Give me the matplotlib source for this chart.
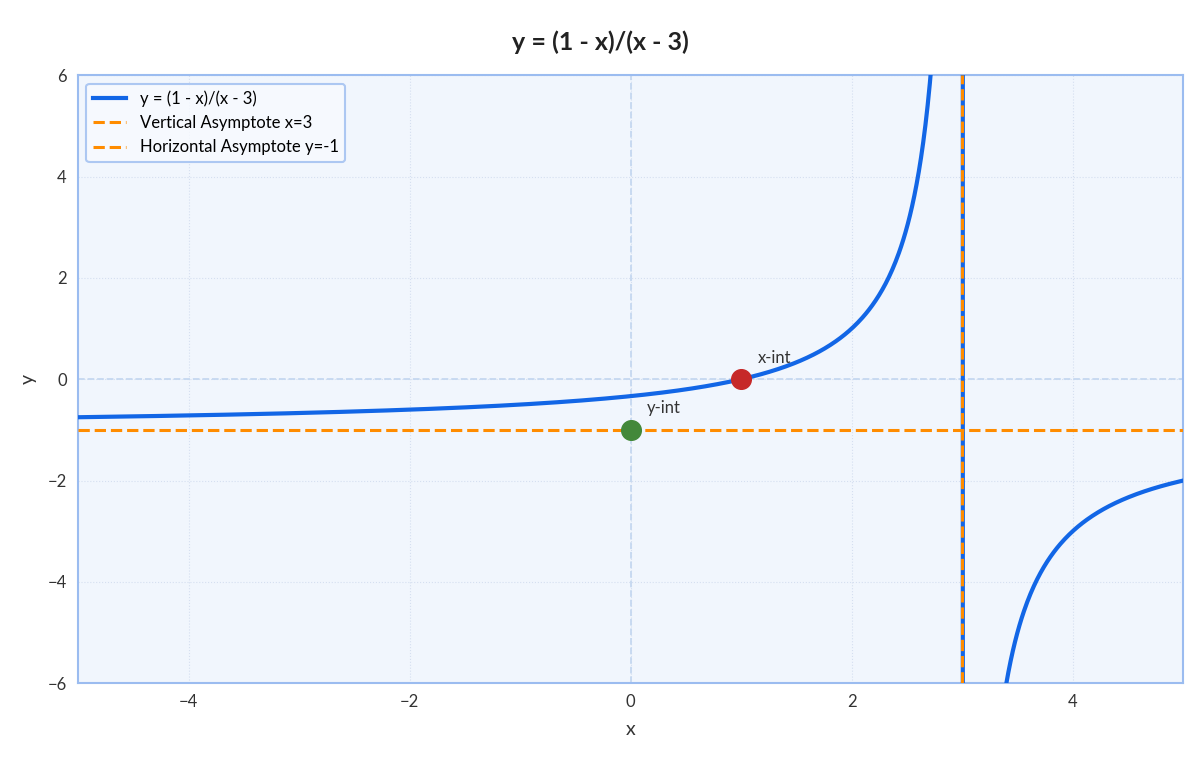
import numpy as np
import matplotlib.pyplot as plt

plt.rcParams['font.family'] = ['Lato', 'DejaVu Sans']

# chart content
title = "y = (1 - x)/(x - 3)"
x_range = [-5, 5]
y_range = [-6, 6]
v_asym = 3
h_asym = -1
x_int = (1, 0)
y_int = (0, -1)
xticks = [-4, -2, 0, 2, 4]
yticks = [-6, -4, -2, 0, 2, 4, 6]

x = np.linspace(x_range[0], x_range[1], 1000)
y = (1 - x) / (x - 3)

fig = plt.figure(figsize=(12, 7.6), dpi=100)
ax = fig.add_axes([0.065, 0.101, 0.921, 0.8])
ax.set_facecolor('#f1f6fd')

ax.grid(True, linestyle=':', color='#d5dff0', linewidth=0.8)
ax.axhline(0, color='#c5d8f0', linestyle='--', linewidth=1.3)
ax.axvline(0, color='#c5d8f0', linestyle='--', linewidth=1.3)

ax.plot(x, y, color='#1266e6', linewidth=3, label=title, zorder=3)
ax.axvline(v_asym, color='#ff8c00', linestyle='--', linewidth=2.2,
           label=f'Vertical Asymptote x={v_asym}', zorder=4)
ax.axhline(h_asym, color='#ff8c00', linestyle='--', linewidth=2.2,
           label=f'Horizontal Asymptote y={h_asym}', zorder=4)

ax.scatter([x_int[0]], [x_int[1]], s=200, color='#c62828', zorder=5)
ax.scatter([y_int[0]], [y_int[1]], s=200, color='#43883a', zorder=5)
ax.annotate('x-int', x_int, xytext=(12, 12), textcoords='offset points',
            fontsize=12, color='#333333')
ax.annotate('y-int', y_int, xytext=(12, 12), textcoords='offset points',
            fontsize=12, color='#333333')

ax.set_xlim(x_range)
ax.set_ylim(y_range)
ax.set_xticks(xticks)
ax.set_yticks(yticks)
ax.tick_params(length=0, labelsize=12, colors='#333333', pad=8)
for s in ax.spines.values():
    s.set_color('#9bbcf0')
    s.set_linewidth(1.5)

ax.set_xlabel('x', fontsize=14, color='#333333', labelpad=8)
ax.set_ylabel('y', fontsize=14, color='#333333', labelpad=8)
fig.suptitle(title, fontsize=18, fontweight='bold', color='#222222', y=0.96)

leg = ax.legend(loc='upper left', fontsize=12, frameon=True, fancybox=True)
leg.get_frame().set_edgecolor('#9bbcf0')
leg.get_frame().set_facecolor('#f8fbff')
leg.get_frame().set_linewidth(1.5)

fig.savefig('out.png', dpi=100)
